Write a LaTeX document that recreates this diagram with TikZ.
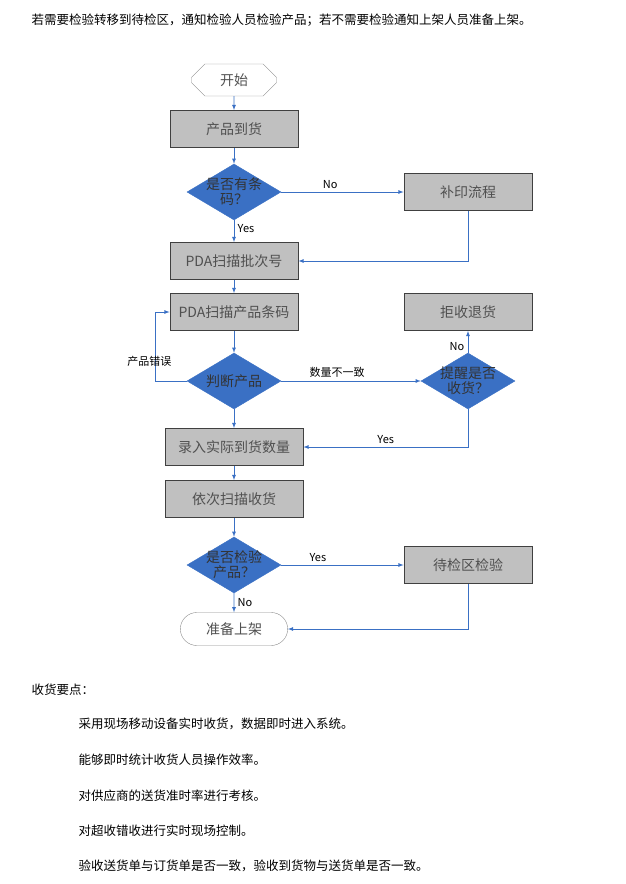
\documentclass[tikz,border=0pt]{standalone}
\usepackage{fontspec}
\setmainfont{Noto Sans CJK SC}
\usetikzlibrary{shapes.geometric,shapes.misc}
\definecolor{flowblue}{HTML}{3A70C4}
\definecolor{boxgray}{HTML}{C0C0C0}
\definecolor{textgray}{HTML}{505050}
\begin{document}
\begin{tikzpicture}[
        x = 1pt, y = -1pt,
        proc/.style = {draw=black!75, fill=boxgray, line width=0.8pt, minimum width=128pt,
            minimum height=37pt, text=textgray, font=\fontsize{14}{16}\selectfont, inner sep=1pt},
        decide/.style = {diamond, draw=flowblue, fill=flowblue, minimum width=94pt,
            minimum height=56pt, inner sep=0pt, text width=0pt},
        dtext/.style = {text width=72pt, align=center, inner sep=0pt,
            font=\fontsize{14}{15}\selectfont, text=black!80},
        flow/.style = {draw=flowblue, line width=0.8pt, -latex},
        lbl/.style = {font=\fontsize{11}{12}\selectfont},
        ]
        \useasboundingbox (0,0) rectangle (626,884);

        % Heading
        \node[anchor=west, font=\fontsize{12.5}{14}\selectfont] at (28,20)
            {若需要检验转移到待检区，通知检验人员检验产品；若不需要检验通知上架人员准备上架。};

        % Main column
        \node (start) at (234,80) [chamfered rectangle, chamfered rectangle xsep=10pt, draw=black!45,
            minimum width=85pt, minimum height=32pt, text=textgray, font=\fontsize{14}{16}\selectfont] {开始};
        \node (arrive) at (234,129) [proc] {产品到货};
        \node (hascode) at (234,192) [decide] {};
        \node[dtext] at (hascode) {是否有条\\码？};
        \node (reprint) at (468,192) [proc] {补印流程};
        \node (batch) at (234,261) [proc] {PDA扫描批次号};
        \node (scancode) at (234,312) [proc] {PDA扫描产品条码};
        \node (reject) at (468,312) [proc] {拒收退货};
        \node (judge) at (234,381) [decide] {};
        \node[dtext] at (judge) {判断产品};
        \node (remind) at (468,381) [decide] {};
        \node[dtext] at (remind) {提醒是否\\收货？};
        \node (enter) at (234,447) [proc, minimum width=138pt] {录入实际到货数量};
        \node (seqscan) at (234,499) [proc, minimum width=138pt] {依次扫描收货};
        \node (inspect) at (234,565) [decide] {};
        \node[dtext] at (inspect) {是否检验\\产品？};
        \node (waitarea) at (468,565) [proc] {待检区检验};
        \node (shelve) at (234,629) [rounded rectangle, draw=black!45, minimum width=114pt,
            minimum height=33pt, text=textgray, font=\fontsize{14}{16}\selectfont] {准备上架};
        \coordinate (loop) at (155,381);

        % Connectors
        \draw[flow] (start) -- (arrive);
        \draw[flow] (arrive) -- (hascode);
        \draw[flow] (hascode) -- node[lbl, above, pos=0.4] {No} (reprint);
        \draw[flow] (hascode) -- node[lbl, right, pos=0.4] {Yes} (batch);
        \draw[flow] (reprint) |- (batch);
        \draw[flow] (batch) -- (scancode);
        \draw[flow] (scancode) -- (judge);
        \draw[flow] (judge.west) -- (loop) |- node[lbl, pos=0.2, left, xshift=20pt, yshift=-8pt] {产品错误} (scancode.west);
        \draw[flow] (judge) -- node[lbl, above, pos=0.4] {数量不一致} (remind);
        \draw[flow] (remind) -- node[lbl, left, pos=0.3] {No} (reject);
        \draw[flow] (remind) |- node[lbl, above, pos=0.75] {Yes} (enter);
        \draw[flow] (judge) -- (enter);
        \draw[flow] (enter) -- (seqscan);
        \draw[flow] (seqscan) -- (inspect);
        \draw[flow] (inspect) -- node[lbl, above, pos=0.3] {Yes} (waitarea);
        \draw[flow] (inspect) -- node[lbl, right, pos=0.5] {No} (shelve);
        \draw[flow] (waitarea) |- (shelve);

        % Notes
        \node[anchor=west, font=\fontsize{12.5}{14}\selectfont] at (28,690) {收货要点：};
        \foreach \y/\txt in {724/采用现场移动设备实时收货，数据即时进入系统。,
            760/能够即时统计收货人员操作效率。,
            796/对供应商的送货准时率进行考核。,
            831/对超收错收进行实时现场控制。,
            866/验收送货单与订货单是否一致，验收到货物与送货单是否一致。}
            \node[anchor=west, font=\fontsize{12.5}{14}\selectfont] at (75,\y) {\txt};
    \end{tikzpicture}
\end{document}
